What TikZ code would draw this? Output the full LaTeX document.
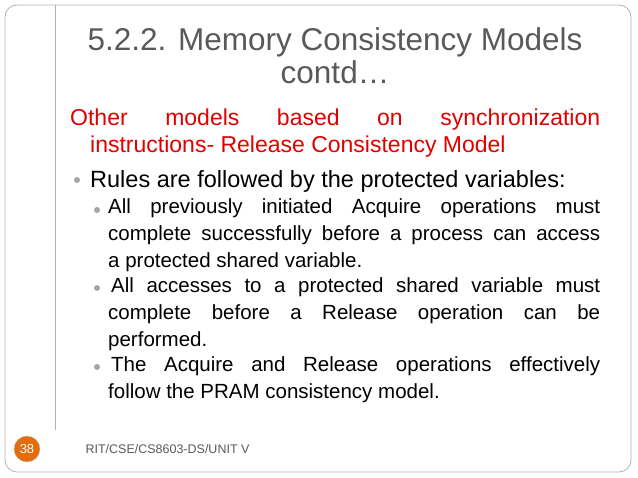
\documentclass[tikz,border=0pt]{standalone}
\usepackage{fontspec}
\setmainfont{Liberation Sans}
\definecolor{titlegray}{HTML}{595959}
\definecolor{redtxt}{HTML}{E00000}
\definecolor{orng}{HTML}{E46C0A}
\begin{document}
\begin{tikzpicture}[x=1pt,y=-1pt,
  para/.style={anchor=north west,inner sep=0pt,align=justify},
  bul/.style={circle,fill=gray!70,inner sep=0pt,minimum size=6pt}]
\useasboundingbox (0,0) rectangle (638,478);
\draw[gray!60,rounded corners=12pt,line width=0.8pt] (5,5) rectangle (631,472);
\draw[gray!60,line width=0.8pt] (55,5) -- (55,430);
\node[circle,fill=orng,draw=gray!50,minimum size=26pt,inner sep=0pt,text=white,font=\fontsize{13}{15}\selectfont] (pg) at (27,449) {38};
\node[anchor=west,text=titlegray,font=\fontsize{12.5}{14}\selectfont] (ft) at (82,449) {RIT/CSE/CS8603-DS/UNIT V};
\node[text=titlegray,align=center,font=\fontsize{31.5}{33}\selectfont] (title) at (335,56) {5.2.2. Memory Consistency Models\\contd…};
\node[anchor=west,inner sep=0pt,text width=530,text=redtxt,font=\fontsize{23}{27}\selectfont] (p0) at (70,120)
  {Other\hfill models\hfill based\hfill on\hfill synchronization};
\node[anchor=west,inner sep=0pt,text=redtxt,font=\fontsize{23}{27}\selectfont] (p0b) at (90,147)
  {instructions- Release Consistency Model};
\node[bul] (b0) at (77,180) {};
\node[anchor=west,inner sep=0pt,font=\fontsize{23.5}{27}\selectfont] (p1) at (90,181) {Rules are followed by the protected variables:};
\node[bul] (b1) at (97,210) {};
\node[para,text width=492,font=\fontsize{20.5}{27}\selectfont] (p2) at (108,198)
  {All previously initiated Acquire operations must\linebreak complete successfully before a process can access\linebreak a protected shared variable.};
\node[bul] (b2) at (97,288) {};
\node[para,text width=492,font=\fontsize{20.5}{27}\selectfont] (p3) at (108,277)
  {\hspace{3pt}All accesses to a protected shared variable must\linebreak complete before a Release operation can be\linebreak performed.};
\node[bul] (b3) at (97,367) {};
\node[para,text width=492,font=\fontsize{20.5}{27}\selectfont] (p4) at (108,356)
  {\hspace{3pt}The Acquire and Release operations effectively\linebreak follow the PRAM consistency model.};
\end{tikzpicture}
\end{document}
